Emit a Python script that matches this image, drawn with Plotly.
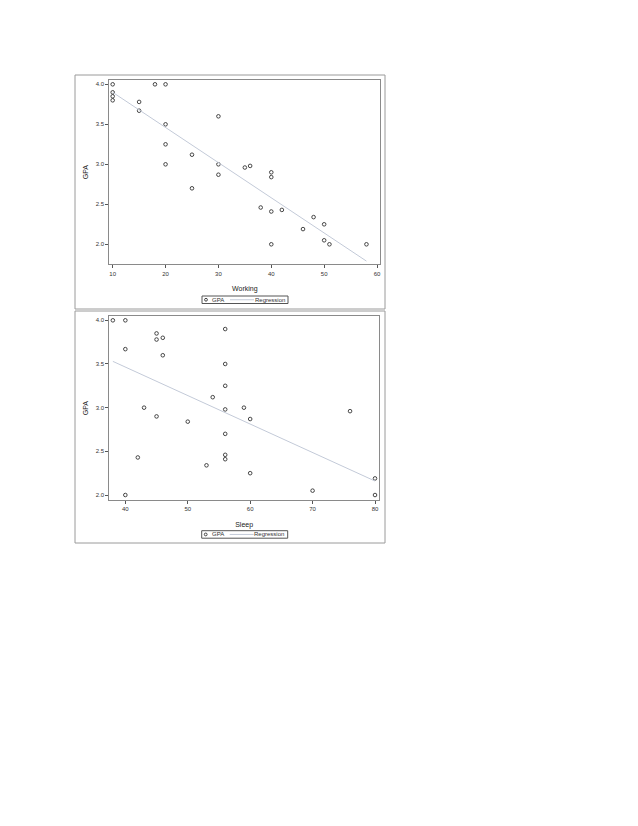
#!/usr/bin/env python3

import plotly.graph_objects as go

W, H = 638, 826
OFF = 8  # page body margin, so everything is placed 8px up/left

# GPA vs hours working
working = [10, 10, 10, 10, 18, 20, 15, 15, 20, 30, 20, 25, 20, 30, 30, 35, 36, 40, 40, 25,
           38, 40, 42, 46, 48, 50, 50, 51, 40, 58]
gpa_working = [4.0, 3.9, 3.85, 3.8, 4.0, 4.0, 3.78, 3.67, 3.5, 3.6, 3.25, 3.12, 3.0, 3.0, 2.87,
               2.96, 2.98, 2.9, 2.84, 2.7, 2.46, 2.41, 2.43, 2.19, 2.34, 2.25, 2.05, 2.0, 2.0, 2.0]
reg_working_x = [10, 58]
reg_working_y = [3.90, 1.79]

# GPA vs hours sleeping
sleep = [38, 40, 40, 45, 45, 46, 46, 56, 56, 56, 54, 43, 56, 59, 60, 45, 50, 76,
         56, 56, 56, 42, 53, 60, 70, 40, 80, 80]
gpa_sleep = [4.0, 4.0, 3.67, 3.85, 3.78, 3.8, 3.6, 3.9, 3.5, 3.25, 3.12, 3.0, 2.98, 3.0, 2.87,
             2.9, 2.84, 2.96, 2.7, 2.46, 2.41, 2.43, 2.34, 2.25, 2.05, 2.0, 2.0, 2.19]
reg_sleep_x = [38, 80]
reg_sleep_y = [3.53, 2.16]

FONT = "Liberation Sans, Arial, sans-serif"
MARK = "#333333"
REG = "#c3cad8"
FRAME = "#8a8a8a"
TEXT = "#333333"


def px_x(p):
    return (p - OFF) / W


def px_y(p):
    return 1 - (p - OFF) / H


fig = go.Figure()

panels = [
    (working, gpa_working, reg_working_x, reg_working_y, "x", "y"),
    (sleep, gpa_sleep, reg_sleep_x, reg_sleep_y, "x2", "y2"),
]
for xs, ys, rx, ry, xa, ya in panels:
    fig.add_trace(go.Scatter(
        x=xs, y=ys, mode="markers", name="GPA", xaxis=xa, yaxis=ya,
        marker=dict(symbol="circle-open", size=3.6, color=MARK, line=dict(width=0.9, color=MARK)),
    ))
    fig.add_trace(go.Scatter(
        x=rx, y=ry, mode="lines", name="Regression", xaxis=xa, yaxis=ya,
        line=dict(color=REG, width=1),
    ))

axis_common = dict(
    showgrid=False, zeroline=False, showline=True, mirror=True, linecolor=FRAME, linewidth=1,
    ticks="outside", ticklen=3, tickcolor="#555555", tickwidth=1,
    tickfont=dict(family=FONT, size=6, color=TEXT),
)
title_font = dict(family=FONT, size=7, color="#222222")

fig.update_layout(
    width=W, height=H,
    margin=dict(l=0, r=0, t=0, b=0),
    paper_bgcolor="white", plot_bgcolor="white",
    showlegend=False,
    xaxis=dict(axis_common, domain=[px_x(109.3), px_x(380.3)], range=[9.36, 60.62],
               tickvals=[10, 20, 30, 40, 50, 60], anchor="y",
               title=dict(text="Working", font=title_font, standoff=10)),
    yaxis=dict(axis_common, domain=[px_y(264.3), px_y(80)], range=[1.75, 4.054],
               tickvals=[2.0, 2.5, 3.0, 3.5, 4.0], tickformat=".1f", anchor="x",
               title=dict(text="GPA", font=title_font, standoff=6)),
    xaxis2=dict(axis_common, domain=[px_x(109.3), px_x(379)], range=[37.43, 80.64],
                tickvals=[40, 50, 60, 70, 80], anchor="y2",
                title=dict(text="Sleep", font=title_font, standoff=10)),
    yaxis2=dict(axis_common, domain=[px_y(500), px_y(316.3)], range=[1.943, 4.046],
                tickvals=[2.0, 2.5, 3.0, 3.5, 4.0], tickformat=".1f", anchor="x2",
                title=dict(text="GPA", font=title_font, standoff=6)),
)

# outer frames around each output panel
for top, bottom in [(75, 309), (311, 543)]:
    fig.add_shape(type="rect", xref="paper", yref="paper",
                  x0=px_x(75), x1=px_x(385), y0=px_y(bottom), y1=px_y(top),
                  line=dict(color="#9a9a9a", width=1), layer="below")


# small SAS-style legend boxes (plotly's own legend can't get this compact)
def add_legend(left, top):
    right, bottom = left + 86, top + 7.5
    mid = (top + bottom) / 2
    fig.add_shape(type="rect", xref="paper", yref="paper",
                  x0=px_x(left), x1=px_x(right), y0=px_y(bottom), y1=px_y(top),
                  line=dict(color="#555555", width=1), fillcolor="white")
    fig.add_shape(type="circle", xref="paper", yref="paper",
                  x0=px_x(left + 2.6), x1=px_x(left + 5.4), y0=px_y(mid + 1.4), y1=px_y(mid - 1.4),
                  line=dict(color=MARK, width=0.9))
    fig.add_shape(type="line", xref="paper", yref="paper",
                  x0=px_x(left + 28), x1=px_x(left + 52), y0=px_y(mid), y1=px_y(mid),
                  line=dict(color=REG, width=1))
    fig.add_annotation(text="GPA", xref="paper", yref="paper", x=px_x(left + 8), y=px_y(mid),
                       xanchor="left", yanchor="middle", showarrow=False,
                       font=dict(family=FONT, size=6, color=TEXT))
    fig.add_annotation(text="Regression", xref="paper", yref="paper", x=px_x(right - 1.5),
                       y=px_y(mid), xanchor="right", yanchor="middle", showarrow=False,
                       font=dict(family=FONT, size=6, color=TEXT))


add_legend(202, 296)
add_legend(201.7, 530.7)

fig.write_html("out.html")
